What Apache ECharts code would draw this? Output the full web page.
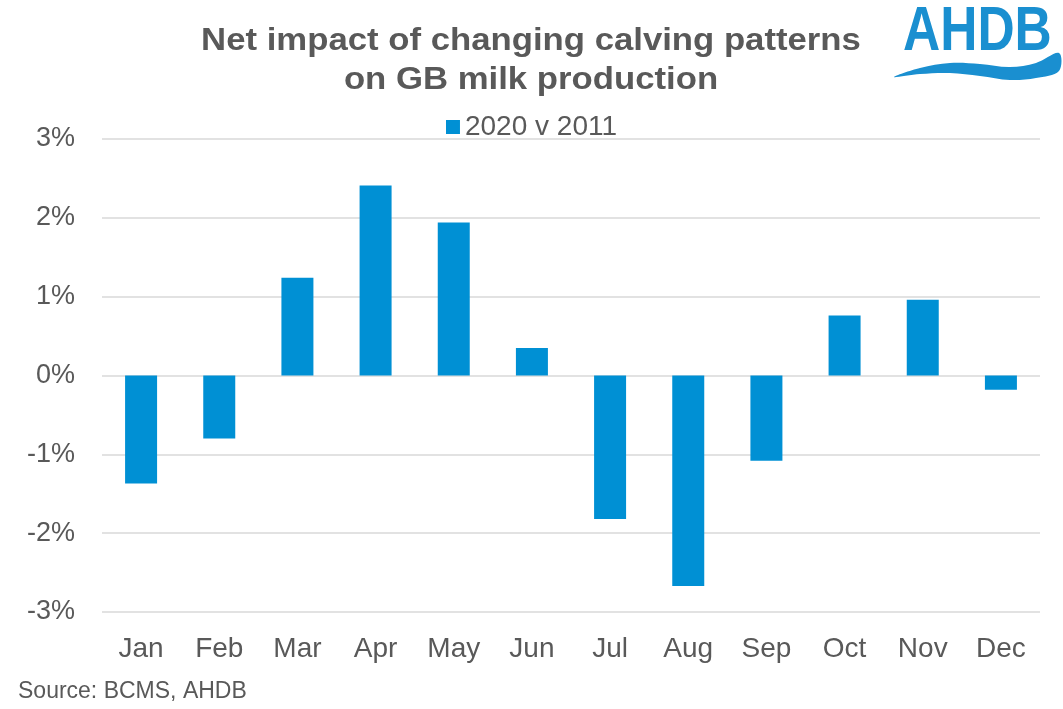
<!DOCTYPE html>
<html>
<head>
<meta charset="utf-8">
<script src="https://cdn.jsdelivr.net/npm/echarts@6/dist/echarts.min.js"></script>
<style>
  html, body { margin: 0; padding: 0; background: #fff; }
  #chart { width: 1063px; height: 709px; }
</style>
</head>
<body>
<div id="chart"></div>
<script>
const months = ['Jan', 'Feb', 'Mar', 'Apr', 'May', 'Jun', 'Jul', 'Aug', 'Sep', 'Oct', 'Nov', 'Dec']
// net impact, %
const impact2020v2011 = [-1.37, -0.80, 1.24, 2.41, 1.94, 0.35, -1.82, -2.67, -1.08, 0.76, 0.96, -0.18]
const seriesName = '2020 v 2011'

const font = '"Liberation Sans", Arial, sans-serif'
const textGrey = '#595959'
const blue = '#0090D4'
const logoBlue = '#1a8fd0'

const myChart = echarts.init(document.getElementById('chart'))
myChart.setOption({
  animation: false,
  textStyle: { fontFamily: font },
  legend: {
    data: [seriesName],
    top: 108,
    left: 'center',
    itemWidth: 14,
    itemHeight: 14,
    itemGap: 6,
    icon: 'rect',
    textStyle: { fontFamily: font, fontSize: 28, color: textGrey }
  },
  grid: {
    left: 102,
    right: 23,
    top: 139,
    bottom: 97
  },
  xAxis: {
    type: 'category',
    data: months,
    axisLine: { show: false },
    axisTick: { show: false },
    axisLabel: {
      fontFamily: font,
      fontSize: 28,
      color: textGrey,
      margin: 23
    }
  },
  yAxis: {
    type: 'value',
    min: -3,
    max: 3,
    interval: 1,
    axisLine: { show: false },
    axisTick: { show: false },
    splitLine: { lineStyle: { color: '#d9d9d9', width: 1.5 } },
    axisLabel: {
      fontFamily: font,
      fontSize: 27,
      color: textGrey,
      margin: 27,
      formatter: v => v + '%'
    }
  },
  series: [
    {
      name: seriesName,
      type: 'bar',
      data: impact2020v2011,
      barWidth: 32,
      itemStyle: { color: blue }
    }
  ],
  graphic: [
    // title, slightly stretched like the original
    {
      type: 'text',
      x: 531,
      y: 22,
      scaleX: 1.12,
      style: {
        text: 'Net impact of changing calving patterns\non GB milk production',
        font: 'bold 31px "Liberation Sans", Arial, sans-serif',
        fill: textGrey,
        align: 'center',
        verticalAlign: 'top',
        lineHeight: 39
      }
    },
    {
      type: 'text',
      x: 18,
      y: 680,
      style: {
        text: 'Source: BCMS, AHDB',
        font: '23px "Liberation Sans", Arial, sans-serif',
        fill: textGrey,
        verticalAlign: 'top'
      }
    },
    // AHDB logo
    {
      type: 'text',
      x: 903,
      y: 33,
      scaleX: 1.03,
      scaleY: 1.25,
      style: {
        text: 'AHDB',
        font: 'bold 50px "Liberation Sans", Arial, sans-serif',
        fill: logoBlue,
        verticalAlign: 'middle'
      }
    },
    {
      type: 'polygon',
      shape: {
        smooth: 0.35,
        points: [
          [894, 77], [920, 68], [950, 63], [980, 64], [1010, 67], [1036, 63], [1059, 53],
          [1059, 71], [1036, 78], [1010, 80], [980, 76], [950, 73], [920, 74]
        ]
      },
      style: { fill: logoBlue }
    }
  ]
})
</script>
</body>
</html>
